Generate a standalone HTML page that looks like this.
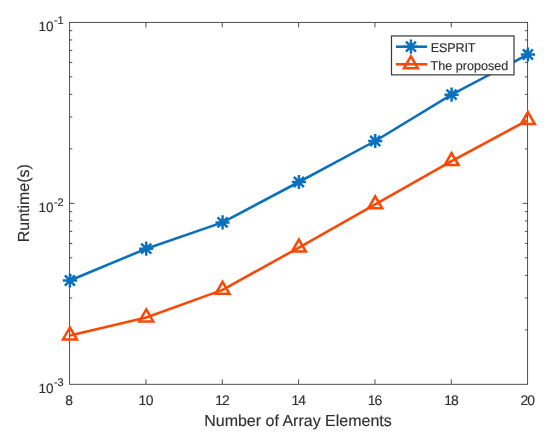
<!DOCTYPE html>
<html><head><meta charset="utf-8">
<style>html,body{margin:0;padding:0;background:#fff;}svg{display:block;}svg text{font-family:"Liberation Sans",sans-serif;}</style></head><body>
<svg width="550" height="438" viewBox="0 0 550 438">
<rect x="0" y="0" width="550" height="438" fill="#ffffff"/>
<g stroke="#3c3c3c" stroke-width="0.9" fill="none">
<rect x="69.6" y="22.4" width="458.00" height="361.90"/>
<path d="M145.93 384.3v-5.0M145.93 22.4v5.0M222.27 384.3v-5.0M222.27 22.4v5.0M298.60 384.3v-5.0M298.60 22.4v5.0M374.93 384.3v-5.0M374.93 22.4v5.0M451.27 384.3v-5.0M451.27 22.4v5.0M69.6 203.35h5.0M527.6 203.35h-5.0M69.6 329.83h2.7M527.6 329.83h-2.7M69.6 297.96h2.7M527.6 297.96h-2.7M69.6 275.36h2.7M527.6 275.36h-2.7M69.6 257.82h2.7M527.6 257.82h-2.7M69.6 243.49h2.7M527.6 243.49h-2.7M69.6 231.38h2.7M527.6 231.38h-2.7M69.6 220.89h2.7M527.6 220.89h-2.7M69.6 211.63h2.7M527.6 211.63h-2.7M69.6 148.88h2.7M527.6 148.88h-2.7M69.6 117.01h2.7M527.6 117.01h-2.7M69.6 94.41h2.7M527.6 94.41h-2.7M69.6 76.87h2.7M527.6 76.87h-2.7M69.6 62.54h2.7M527.6 62.54h-2.7M69.6 50.43h2.7M527.6 50.43h-2.7M69.6 39.94h2.7M527.6 39.94h-2.7M69.6 30.68h2.7M527.6 30.68h-2.7"/>
</g>
<polyline points="69.90,280.50 146.23,248.70 222.57,222.40 298.90,182.00 375.23,141.00 451.57,94.70 527.90,54.50" stroke="#0a70be" stroke-width="2.55" fill="none" stroke-linejoin="round"/>
<path d="M62.80 280.50H77.00M69.90 273.40V287.60M64.88 275.48L74.92 285.52M64.88 285.52L74.92 275.48" stroke="#0a70be" stroke-width="2.5" fill="none"/>
<path d="M139.13 248.70H153.33M146.23 241.60V255.80M141.21 243.68L151.25 253.72M141.21 253.72L151.25 243.68" stroke="#0a70be" stroke-width="2.5" fill="none"/>
<path d="M215.47 222.40H229.67M222.57 215.30V229.50M217.55 217.38L227.59 227.42M217.55 227.42L227.59 217.38" stroke="#0a70be" stroke-width="2.5" fill="none"/>
<path d="M291.80 182.00H306.00M298.90 174.90V189.10M293.88 176.98L303.92 187.02M293.88 187.02L303.92 176.98" stroke="#0a70be" stroke-width="2.5" fill="none"/>
<path d="M368.13 141.00H382.33M375.23 133.90V148.10M370.21 135.98L380.25 146.02M370.21 146.02L380.25 135.98" stroke="#0a70be" stroke-width="2.5" fill="none"/>
<path d="M444.47 94.70H458.67M451.57 87.60V101.80M446.55 89.68L456.59 99.72M446.55 99.72L456.59 89.68" stroke="#0a70be" stroke-width="2.5" fill="none"/>
<path d="M520.80 54.50H535.00M527.90 47.40V61.60M522.88 49.48L532.92 59.52M522.88 59.52L532.92 49.48" stroke="#0a70be" stroke-width="2.5" fill="none"/>
<polyline points="69.90,335.40 146.23,317.45 222.57,289.85 298.90,247.55 375.23,204.35 451.57,161.10 527.90,120.10" stroke="#f84a06" stroke-width="2.55" fill="none" stroke-linejoin="round"/>
<path d="M69.90 327.38L76.85 339.41L62.95 339.41Z" stroke="#f84a06" stroke-width="2.5" fill="none" stroke-linejoin="miter"/>
<path d="M146.23 309.43L153.18 321.46L139.28 321.46Z" stroke="#f84a06" stroke-width="2.5" fill="none" stroke-linejoin="miter"/>
<path d="M222.57 281.83L229.52 293.86L215.62 293.86Z" stroke="#f84a06" stroke-width="2.5" fill="none" stroke-linejoin="miter"/>
<path d="M298.90 239.53L305.85 251.56L291.95 251.56Z" stroke="#f84a06" stroke-width="2.5" fill="none" stroke-linejoin="miter"/>
<path d="M375.23 196.33L382.18 208.36L368.28 208.36Z" stroke="#f84a06" stroke-width="2.5" fill="none" stroke-linejoin="miter"/>
<path d="M451.57 153.08L458.52 165.11L444.62 165.11Z" stroke="#f84a06" stroke-width="2.5" fill="none" stroke-linejoin="miter"/>
<path d="M527.90 112.08L534.85 124.11L520.95 124.11Z" stroke="#f84a06" stroke-width="2.5" fill="none" stroke-linejoin="miter"/>
<g stroke="#303030" stroke-width="0.15" text-rendering="geometricPrecision" font-size="13.9" letter-spacing="-0.9" fill="#303030" text-anchor="middle">
<text x="68.70" y="405.0">8</text>
<text x="145.83" y="405.0" letter-spacing="-0.3">10</text>
<text x="221.97" y="405.0">12</text>
<text x="298.30" y="405.0">14</text>
<text x="374.63" y="405.0">16</text>
<text x="450.97" y="405.0">18</text>
<text x="527.30" y="405.0">20</text>
</g>
<g stroke="#303030" stroke-width="0.15" text-rendering="geometricPrecision" font-size="13.5" fill="#303030" text-anchor="end">
<text x="38.4" y="392.50" text-anchor="start">10<tspan font-size="11" dx="0.5" dy="-6.5">-3</tspan></text>
<text x="38.4" y="212.35" text-anchor="start">10<tspan font-size="11" dx="0.5" dy="-6.5">-2</tspan></text>
<text x="38.4" y="30.50" text-anchor="start">10<tspan font-size="11" dx="0.5" dy="-6.5">-1</tspan></text>
</g>
<text stroke="#303030" stroke-width="0.15" text-rendering="geometricPrecision" font-size="16" fill="#303030" text-anchor="middle" x="298.0" y="426">Number of Array Elements</text>
<text stroke="#303030" stroke-width="0.15" text-rendering="geometricPrecision" font-size="16" fill="#303030" text-anchor="middle" transform="translate(28.9 203.2) rotate(-90)">Runtime(s)</text>
<rect x="391.5" y="35.95" width="122.5" height="38.9" fill="#ffffff" stroke="#383838" stroke-width="1.2"/>
<path d="M396.0 46.7H427.2" stroke="#0a70be" stroke-width="2.55"/>
<path d="M403.85 46.70H418.05M410.95 39.60V53.80M405.93 41.68L415.97 51.72M405.93 51.72L415.97 41.68" stroke="#0a70be" stroke-width="2.5" fill="none"/>
<path d="M396.0 64.3H427.2" stroke="#f84a06" stroke-width="2.55"/>
<path d="M410.90 56.28L417.85 68.31L403.95 68.31Z" stroke="#f84a06" stroke-width="2.5" fill="none" stroke-linejoin="miter"/>
<g stroke="#303030" stroke-width="0.15" text-rendering="geometricPrecision" font-size="12.6" fill="#303030">
<text x="430.8" y="51.7" letter-spacing="-0.15">ESPRIT</text>
<text x="430.5" y="69.9">The proposed</text>
</g>
</svg>
</body></html>
